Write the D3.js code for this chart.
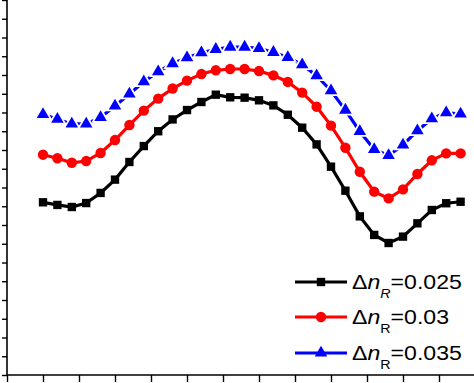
<!DOCTYPE html>
<html>
<head>
<meta charset="utf-8">
<script src="https://cdn.jsdelivr.net/npm/d3@7"></script>
<style>
  body { margin: 0; background: #fff; }
  svg { display: block; font-family: "Liberation Sans", Arial, sans-serif; }
</style>
</head>
<body>
<svg width="474" height="383"></svg>
<script>
// x positions of the samples (axis ticks every 5)
const xVals = [5, 7, 9, 11, 13, 15, 17, 19, 21, 23, 25, 27, 29, 31, 33,
  35, 37, 39, 41, 43, 45, 47, 49, 51, 53, 55, 57, 59, 61, 63]

const dn025 = [9.21, 9.07, 8.96, 9.17, 9.71, 10.42, 11.36, 12.21, 13.0, 13.63,
  14.13, 14.56, 14.95, 14.81, 14.79, 14.65, 14.38, 13.88, 13.19, 12.3,
  11.11, 9.83, 8.46, 7.47, 7.04, 7.38, 8.09, 8.8, 9.16, 9.24]

const dn03 = [11.75, 11.56, 11.32, 11.41, 11.84, 12.53, 13.33, 14.1, 14.74, 15.28,
  15.7, 16.05, 16.25, 16.32, 16.32, 16.21, 15.98, 15.63, 15.06, 14.31,
  13.3, 12.12, 10.84, 9.78, 9.42, 9.9, 10.72, 11.45, 11.82, 11.82]

const dn035 = [13.9, 13.64, 13.39, 13.39, 13.74, 14.35, 14.99, 15.64, 16.18, 16.61,
  16.92, 17.19, 17.37, 17.49, 17.49, 17.42, 17.21, 16.94, 16.55, 15.96,
  15.16, 14.13, 12.99, 12.03, 11.71, 12.27, 13.03, 13.67, 13.99, 13.92]

const labels = ['0.025', '0.03', '0.035']
const colors = ['#000000', '#ff0000', '#0000ff']

const svg = d3.select('svg')

const xScale = d3.scaleLinear().domain([0, 65]).range([7, 475])
const yScale = d3.scaleLinear().domain([0, 20]).range([375, 0])

// axes, no labels visible in the crop
const xAxis = d3.axisBottom(xScale)
  .tickValues(d3.range(0, 66, 5))
  .tickSize(7)
  .tickFormat('')
const yAxis = d3.axisLeft(yScale)
  .tickValues(d3.range(0, 21, 1))
  .tickSize(5)
  .tickFormat('')

const xAxisG = svg.append('g').attr('transform', 'translate(0,375)').call(xAxis)
const yAxisG = svg.append('g').attr('transform', 'translate(7,0)').call(yAxis)
svg.selectAll('.domain').attr('stroke', '#000').attr('stroke-width', 1.6)
svg.selectAll('.tick line').attr('stroke', '#000').attr('stroke-width', 1.4)
xAxisG.select('.domain').attr('d', 'M7,0H474')
yAxisG.select('.domain').attr('d', 'M0,0V375')

const series = [
  {vals: dn025, sym: d3.symbolSquare, size: 70},
  {vals: dn03, sym: d3.symbolCircle, size: 85},
  {vals: dn035, sym: d3.symbolTriangle, size: 68}
]

const line = d3.line()
  .x(d => xScale(d[0]))
  .y(d => yScale(d[1]))

series.forEach((s, i) => {
  const pts = xVals.map((x, j) => [x, s.vals[j]])
  const g = svg.append('g')
  g.append('path')
    .attr('d', line(pts))
    .attr('fill', 'none')
    .attr('stroke', colors[i])
    .attr('stroke-width', 3.2)
  g.selectAll('path.m').data(pts)
    .enter().append('path')
      .attr('class', 'm')
      .attr('transform', d => `translate(${xScale(d[0])},${yScale(d[1])})`)
      .attr('d', d3.symbol().type(s.sym).size(s.size))
      .attr('fill', colors[i])
      .attr('stroke', i == 2 ? '#fff' : 'none')
      .attr('stroke-width', i == 2 ? 3.5 : 0)
      .style('paint-order', 'stroke')
})

// legend
const legY = [282, 317, 353]
series.forEach((s, i) => {
  const g = svg.append('g').attr('transform', `translate(0,${legY[i]})`)
  g.append('line')
    .attr('x1', 295).attr('x2', 347)
    .attr('stroke', colors[i]).attr('stroke-width', 3.2)
  g.append('path')
    .attr('transform', 'translate(321,0)')
    .attr('d', d3.symbol().type(s.sym).size(s.size))
    .attr('fill', colors[i])
  // text looks stretched sideways in the original
  const t = g.append('text')
    .attr('transform', 'translate(352,7) scale(1.1,1)')
    .attr('font-size', 21)
    .attr('fill', '#000')
  t.append('tspan').text('\u0394')
  t.append('tspan').attr('font-style', 'italic').text('n')
  t.append('tspan')
    .attr('font-size', 13)
    .attr('dy', 9)
    .attr('font-style', i == 0 ? 'italic' : 'normal')
    .text('R')
  t.append('tspan').attr('dy', -9).text('=' + labels[i])
})
</script>
</body>
</html>
